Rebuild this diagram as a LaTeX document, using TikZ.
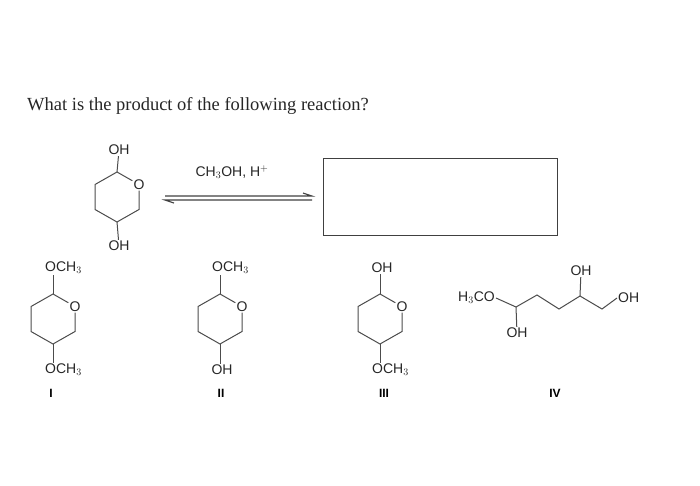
\documentclass[tikz,border=0pt]{standalone}
\usepackage{fontspec}
\usetikzlibrary{calc}
\setmainfont{Liberation Serif}
\newfontfamily\arial{Liberation Sans}
\begin{document}
\begin{tikzpicture}[x=1pt,y=-1pt,
  bond/.style={draw=black!70,line width=1pt},
  lbl/.style={font=\arial\fontsize{14}{14}\selectfont,inner sep=1pt,text=black!85},
  num/.style={font=\arial\bfseries\fontsize{12}{12}\selectfont,inner sep=1pt}]
\useasboundingbox (0,0) rectangle (700,485);
\newcommand\mkring[2]{% name, center
  \coordinate (#1t) at ($(#2)+(0,-25)$);
  \node[lbl] (#1o) at ($(#2)+(22,-12.5)$) {O};
  \coordinate (#1r) at ($(#2)+(22,12.5)$);
  \coordinate (#1b) at ($(#2)+(0,25)$);
  \coordinate (#1l) at ($(#2)+(-22,12.5)$);
  \coordinate (#1u) at ($(#2)+(-22,-12.5)$);
  \draw[bond] (#1o) -- (#1t) -- (#1u) -- (#1l) -- (#1b) -- (#1r) -- (#1o);}
\node[font=\fontsize{18.5}{18.5}\selectfont,anchor=west,inner sep=0,text=black!85] (q) at (27,106) {What is the product of the following reaction?};
% starting material
\coordinate (c0) at (117,197);
\mkring{s}{c0}
\node[lbl] (soh) at (119,150) {OH};
\node[lbl] (soh2) at (119,246) {OH};
\draw[bond] (st) -- (soh); \draw[bond] (sb) -- (soh2);
% arrows
\coordinate (a1) at (165,196); \coordinate (a2) at (312,196);
\coordinate (b1) at (165,200); \coordinate (b2) at (312,200);
\draw[line width=1.1pt,black!75] (a1) -- (a2) -- ++(-9,-3);
\draw[line width=1.1pt,black!75] (b2) -- (b1) -- ++(9,3);
\node[lbl] (reag) at (232,172) {CH$_3$OH, H$^{+}$};
\node[draw=black!75,line width=1pt,minimum width=234pt,minimum height=77pt,inner sep=0] (box) at (440,196.5) {};
% I
\coordinate (c1) at (53,319);
\mkring{i}{c1}
\node[lbl,anchor=west] (i1) at (44,268) {OCH$_3$};
\node[lbl,anchor=west] (i2) at (44,370) {OCH$_3$};
\draw[bond] (it) -- (it|-i1.south); \draw[bond] (ib) -- (ib|-i2.north);
\node[num] (nI) at (51,393) {I};
% II
\coordinate (c2) at (220,319);
\mkring{ii}{c2}
\node[lbl,anchor=west] (ii1) at (211,268) {OCH$_3$};
\node[lbl] (ii2) at (222,370) {OH};
\draw[bond] (iit) -- (iit|-ii1.south); \draw[bond] (iib) -- (iib|-ii2.north);
\node[num] (nII) at (221,393) {II};
% III
\coordinate (c3) at (380,319);
\mkring{iii}{c3}
\node[lbl] (iii1) at (382,268) {OH};
\node[lbl,anchor=west] (iii2) at (371,370) {OCH$_3$};
\draw[bond] (iiit) -- (iiit|-iii1.south); \draw[bond] (iiib) -- (iiib|-iii2.north);
\node[num] (nIII) at (384,393) {III};
% IV
\node[lbl,anchor=east] (meo) at (496,298) {H$_3$CO};
\coordinate (k1) at (516,307); \coordinate (k2) at (537,295);
\coordinate (k3) at (559,309); \coordinate (k4) at (580,296);
\coordinate (k5) at (602,309);
\node[lbl] (koh1) at (517,333) {OH};
\node[lbl] (koh2) at (581,271) {OH};
\node[lbl,anchor=west] (koh3) at (617,298) {OH};
\draw[bond] (meo.east) -- (k1) -- (k2) -- (k3) -- (k4) -- (k5) -- (koh3.west);
\draw[bond] (k1) -- (koh1); \draw[bond] (k4) -- (koh2);
\node[num] (nIV) at (555,393) {IV};
\end{tikzpicture}
\end{document}
